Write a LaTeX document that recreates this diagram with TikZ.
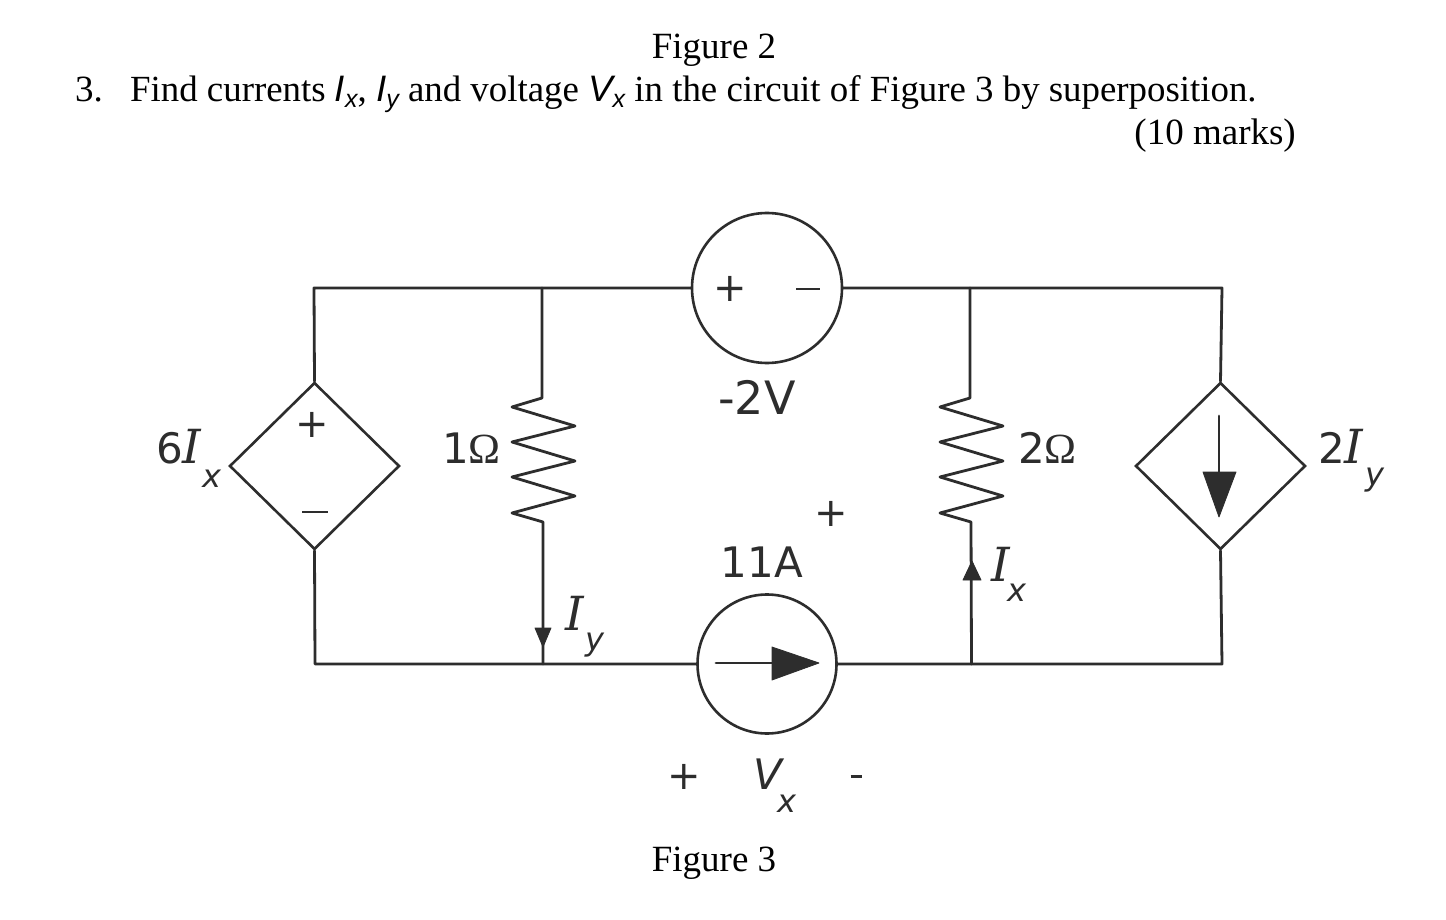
\documentclass[tikz,border=0pt]{standalone}
\usepackage{fontspec}
\usetikzlibrary{shapes.geometric}
\setmainfont{Liberation Serif}
\newfontfamily\cirfont{DejaVu Sans}
\newfontfamily\cirital{DejaVu Sans Oblique}
\newfontfamily\serital{DejaVu Serif Italic}
\newfontfamily\omfont{Liberation Serif}
\newfontfamily\hdrsub{Liberation Sans Italic}
\newcommand{\HdrSub}[2]{{\hdrsub #1\raisebox{-0.16em}{\fontsize{25}{25}\selectfont #2}}}
\newcommand{\CurI}{{\fontsize{47}{47}\serital I}}
\newcommand{\SubL}[1]{{\fontsize{32}{32}\cirital #1}}
\newcommand{\Ohm}{{\omfont\fontsize{43}{43}\selectfont Ω}}
\definecolor{ink}{RGB}{45,45,45}
\tikzset{
  wire/.style={draw=ink,line width=2.8pt,line cap=round,line join=round},
  head/.style={fill=ink,draw=ink,line width=0.8pt,line join=round},
  title/.style={inner sep=0,anchor=base,font=\fontsize{37}{40}\selectfont,text=black},
  lab/.style={inner sep=0,anchor=base,font=\cirfont\fontsize{42}{44}\selectfont,text=ink},
  sign/.style={inner sep=0,anchor=center,font=\cirfont\fontsize{40}{42}\selectfont,text=ink},
  diam/.style={diamond,draw=ink,line width=2.6pt,minimum width=170pt,minimum height=167pt,inner sep=0,aspect=1},
  src/.style={circle,draw=ink,line width=2.6pt,inner sep=0,minimum size=#1}
}
\begin{document}
\begin{tikzpicture}[x=1pt,y=-1pt]
\useasboundingbox (0,0) rectangle (1446,920);
\fill[white] (0,0) rectangle (1446,920);
% header
\node[title] (fig2) at (714,59) {Figure 2};
\node[title,anchor=base west] (qnum) at (75,102) {3.};
\node[title,anchor=base west,font=\fontsize{36.85}{40}\selectfont] (qtext) at (130,102) {Find currents \HdrSub{I}{x}, \HdrSub{I}{y} and voltage \HdrSub{V}{x} in the circuit of Figure 3 by superposition.};
\node[title,anchor=base east] (marks) at (1296,145) {(10 marks)};
\node[title] (fig3) at (714,871) {Figure 3};
% elements
\node[diam] (dl) at (314.5,466) {};
\node[diam] (dr) at (1220.5,466) {};
\node[src=150pt] (vs) at (767,288) {};
\node[src=139pt] (is) at (767,664) {};
% corners and junctions
\coordinate (tl) at (314,288);
\coordinate (tr) at (1222,288);
\coordinate (bl) at (315,664);
\coordinate (br) at (1222,664);
\coordinate (r1t) at (542,288);
\coordinate (r1b) at (543,664);
\coordinate (r2t) at (970,288);
\coordinate (r2b) at (971.5,664);
% wires
\draw[wire] (dl.north) -- (tl) -- (r1t) -- (vs.west);
\draw[wire] (vs.east) -- (r2t) -- (tr) -- (dr.north);
\draw[wire] (dl.south) -- (bl) -- (r1b) -- (is.west);
\draw[wire] (is.east) -- (r2b) -- (br) -- (dr.south);
% resistors
\draw[wire] (r1t) -- (542,398) -- (512,407) -- (575,426) -- (512,442) -- (575,461) -- (512,477) -- (575,496) -- (512,513) -- (543,522) -- (r1b);
\draw[wire] (r2t) -- (970,398) -- (940,407) -- (1003,426) -- (940,442) -- (1003,461) -- (940,477) -- (1003,496) -- (940,513) -- (971,522) -- (r2b);
% current arrows
\fill[head] (535,628) -- (551,628) -- (543,647) -- cycle;
\fill[head] (972,561) -- (963,580) -- (981,580) -- cycle;
% source arrows
\draw[wire] (716,663) -- (775,663);
\fill[head] (772,647) -- (772,680) -- (819,663) -- cycle;
\draw[wire] (1219,416) -- (1219,475);
\fill[head] (1203,472) -- (1236,472) -- (1219,517) -- cycle;
% signs
\node[sign] (vp) at (730,289) {+};
\node[inner sep=0] (vm) at (808,289) {\tikz\draw[ink,line width=2.4pt] (0,0) -- (24pt,0);};
\node[sign] (dlp) at (312,425) {+};
\node[inner sep=0] (dlm) at (315,512) {\tikz\draw[ink,line width=2.4pt] (0,0) -- (26pt,0);};
\node[sign] (ip) at (831,514) {+};
\node[sign] (xp) at (684,777) {+};
\node[inner sep=0] (xm) at (856,776) {\tikz\draw[ink,line width=3pt] (0,0) -- (11pt,0);};
% labels
\node[lab,font=\cirfont\fontsize{46}{48}\selectfont] (lv) at (757,414) {-2V};
\node[lab] (li) at (762,577) {11A};
\node[lab,anchor=base west] (l1) at (442,463) {1\Ohm};
\node[lab,anchor=base west] (l2) at (1018,463) {2\Ohm};
\node[lab,anchor=base west] (l6) at (156,463) {6\CurI};
\node[lab,anchor=base west] (l6x) at (202,487) {\SubL{x}};
\node[lab,anchor=base west] (lr) at (1318,463) {2\CurI};
\node[lab,anchor=base west] (lry) at (1365,485) {\SubL{y}};
\node[lab,anchor=base west] (liy) at (565,630) {\CurI};
\node[lab,anchor=base west] (liys) at (585,650) {\SubL{y}};
\node[lab,anchor=base west] (lix) at (991,581) {\CurI};
\node[lab,anchor=base west] (lixs) at (1007,601) {\SubL{x}};
\node[lab,anchor=base west] (lvx) at (753,789) {{\cirital V}};
\node[lab,anchor=base west] (lvxs) at (777,812) {\SubL{x}};
\end{tikzpicture}
\end{document}
